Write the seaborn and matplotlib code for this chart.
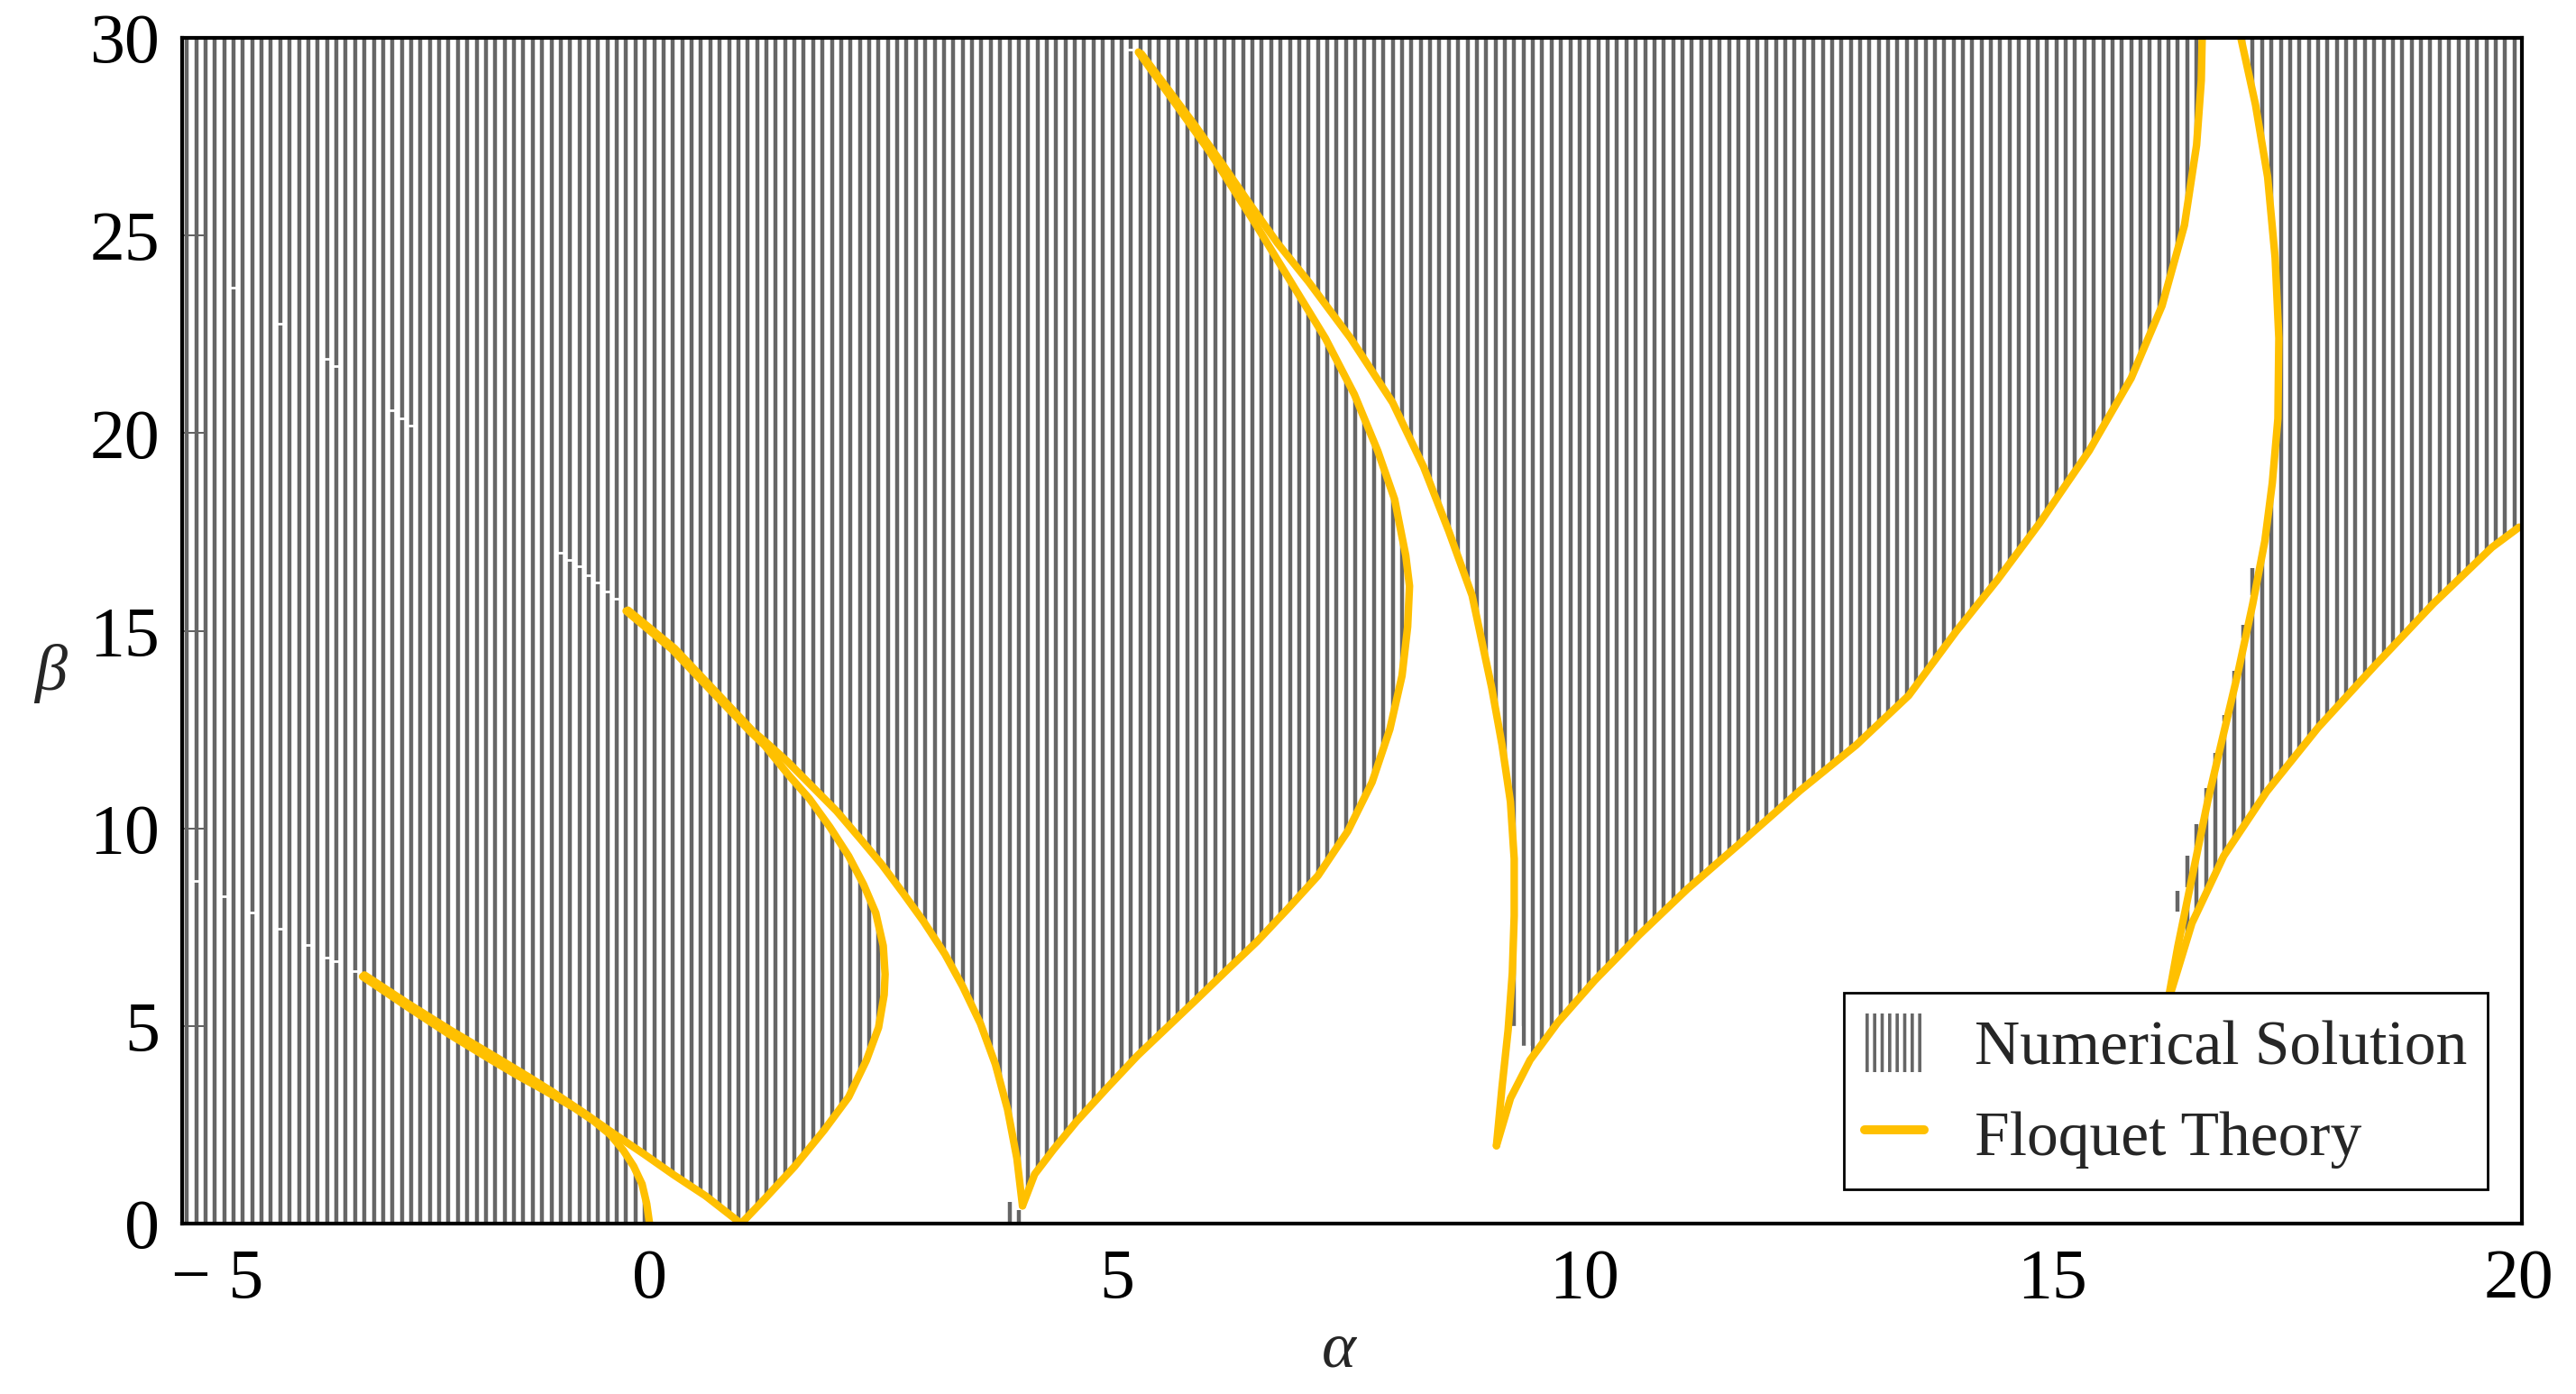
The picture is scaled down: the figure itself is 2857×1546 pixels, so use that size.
import numpy as np
import pandas as pd
import matplotlib
matplotlib.use("Agg")
import matplotlib.pyplot as plt
import matplotlib.transforms as mtransforms
import seaborn as sns
from matplotlib.patches import Patch
from matplotlib.lines import Line2D

# ---------------- data ----------------
# Floquet-theory transition curves (alpha, beta)
a0_alpha = [0.0, -0.03, -0.08, -0.17, -0.28, -0.42, -0.60, -0.80, -1.00, -1.20, -1.40, -1.70, -2.15, -2.60, -3.07]
a0_beta = [0.0, 0.50, 1.00, 1.45, 1.85, 2.25, 2.60, 2.92, 3.20, 3.47, 3.73, 4.15, 4.80, 5.50, 6.25]

b1_alpha = [0.98, 0.60, 0.26, -0.06, -0.38, -0.70, -1.03, -1.30, -1.65, -2.12, -2.58, -3.05]
b1_beta = [0.0, 0.70, 1.23, 1.76, 2.27, 2.80, 3.32, 3.72, 4.22, 4.88, 5.56, 6.29]

a1_alpha = [0.98, 1.23, 1.55, 1.87, 2.13, 2.32, 2.45, 2.51, 2.52, 2.50, 2.42, 2.29, 2.13, 1.93, 1.71, 1.48, 1.23, 1.08, 0.66, 0.24, -0.25]
a1_beta = [0.0, 0.62, 1.44, 2.37, 3.20, 4.13, 4.96, 5.79, 6.31, 7.03, 7.86, 8.58, 9.30, 10.03, 10.75, 11.37, 12.10, 12.44, 13.48, 14.53, 15.50]

b2_alpha = [3.99, 3.93, 3.83, 3.70, 3.54, 3.35, 3.16, 2.93, 2.71, 2.48, 2.26, 2.00, 1.74, 1.48, 1.26, 1.11, 0.69, 0.27, -0.23]
b2_beta = [0.45, 1.65, 2.89, 4.03, 5.06, 6.00, 6.82, 7.65, 8.37, 9.10, 9.72, 10.44, 11.06, 11.68, 12.15, 12.45, 13.50, 14.55, 15.52]

a2_alpha = [3.99, 4.12, 4.32, 4.57, 4.89, 5.22, 5.54, 5.86, 6.18, 6.50, 6.83, 7.15, 7.47, 7.73, 7.92, 8.05, 8.11, 8.13,
            8.09, 7.97, 7.79, 7.54, 7.23, 6.86, 6.49, 6.00, 5.57, 5.23]
a2_beta = [0.45, 1.25, 1.87, 2.59, 3.42, 4.25, 4.97, 5.69, 6.42, 7.14, 7.97, 8.80, 9.93, 11.17, 12.51, 13.86, 15.10, 16.13,
           16.90, 18.33, 19.55, 20.98, 22.40, 23.83, 25.26, 27.09, 28.52, 29.64]

b3_alpha = [9.06, 9.12, 9.185, 9.23, 9.25, 9.25, 9.21, 9.12, 9.01, 8.80, 8.55, 8.28, 7.95, 7.50, 7.05, 6.72, 6.42, 6.13, 5.83, 5.53, 5.26]
b3_beta = [1.97, 3.46, 4.90, 6.34, 7.79, 9.23, 10.67, 12.11, 13.55, 15.89, 17.52, 19.15, 20.77, 22.40, 23.83, 24.80, 25.80, 26.80, 27.80, 28.75, 29.60]

a3_alpha = [9.06, 9.21, 9.42, 9.72, 10.11, 10.59, 11.10, 11.71, 12.31, 12.91, 13.47, 13.98, 14.42, 14.87, 15.40, 15.85, 16.18, 16.42, 16.55, 16.60, 16.61]
a3_beta = [1.97, 3.17, 4.14, 5.10, 6.15, 7.31, 8.46, 9.71, 10.96, 12.11, 13.36, 14.99, 16.29, 17.72, 19.55, 21.39, 23.22, 25.26, 27.29, 28.92, 30.04]

b4_alpha = [17.02, 17.18, 17.31, 17.39, 17.43, 17.42, 17.36, 17.28, 17.15, 16.99, 16.83, 16.67, 16.51, 16.35, 16.24]
b4_beta = [30.04, 28.31, 26.48, 24.44, 22.40, 20.37, 18.74, 17.27, 15.67, 13.91, 12.31, 10.70, 8.86, 7.02, 5.58]

a4_alpha = [16.24, 16.50, 16.84, 17.30, 17.85, 18.45, 19.08, 19.71, 20.0]
a4_beta = [5.58, 7.60, 9.30, 10.93, 12.55, 14.10, 15.68, 17.11, 17.62]

# Numerical solution: sampled alpha columns (one stripe per sample)
alpha_grid = np.round(np.arange(-4.95, 20.0, 0.1), 2)
# isolated stable samples inside the unstable region (white gaps)
gap_alpha = [-4.85, -4.55, -4.25, -3.95, -3.65, -3.45, -3.35, -3.15,
             -4.45, -3.95, -3.45, -3.35, -2.75, -2.65, -2.55,
             -0.95, -0.85, -0.75, -0.65, -0.55, -0.45, -0.35, 5.15]
gap_beta = [8.66, 8.27, 7.86, 7.46, 7.06, 6.73, 6.65, 6.39,
            23.68, 22.77, 21.87, 21.70, 20.57, 20.37, 20.20,
            16.98, 16.80, 16.63, 16.40, 16.22, 15.99, 15.82, 29.70]
# stable numerical cells just above the cusp of the third tongue
cusp_gap_alpha = [9.06, 9.25, 9.42, 9.43, 9.33, 9.33, 9.19, 9.12]
cusp_gap_beta = [1.97, 3.35, 4.14, 4.50, 4.50, 5.00, 5.00, 3.46]
# isolated unstable samples inside stable regions (grey dashes)
dash_alpha = [16.35, 16.45, 16.55, 16.65, 16.75, 16.85, 16.95, 17.05, 17.15, 3.85, 3.95]
dash_low = [7.90, 8.50, 9.50, 10.60, 11.60, 12.70, 13.70, 14.80, 15.90, 0.05, 0.05]
dash_high = [8.42, 9.30, 10.10, 11.03, 11.91, 12.87, 13.99, 15.15, 16.59, 0.55, 0.35]

x_ticks = [-5, 0, 5, 10, 15, 20]
x_tick_labels = ["\u2212 5", "0", "5", "10", "15", "20"]
y_ticks = [0, 5, 10, 15, 20, 25, 30]

curves = {
    "a0": (a0_alpha, a0_beta), "b1": (b1_alpha, b1_beta),
    "a1": (a1_alpha, a1_beta), "b2": (b2_alpha, b2_beta),
    "a2": (a2_alpha, a2_beta), "b3": (b3_alpha, b3_beta),
    "a3": (a3_alpha, a3_beta), "b4": (b4_alpha, b4_beta),
    "a4": (a4_alpha, a4_beta),
}

# ---------------- style ----------------
sns.set_theme(style="ticks")
plt.rcParams["font.family"] = ["Liberation Serif", "DejaVu Serif"]
plt.rcParams["hatch.linewidth"] = 1.3

STRIPE = "#666666"
GOLD = "#FFC000"
plt.rcParams["hatch.color"] = STRIPE

fig = plt.figure(figsize=(2857 / 200, 1546 / 200), dpi=200)
ax = fig.add_axes([202 / 2857, 189 / 1546, 2595 / 2857, 1315 / 1546])
ax.set_xlim(-5.0, 20.03)
ax.set_ylim(0, 30)

# numerical solution: vertical stripes everywhere, stable regions masked in white
ax.vlines(alpha_grid, 0, 30, colors=STRIPE, linewidth=1.6, zorder=1)

poly_x = (a0_alpha + b1_alpha[::-1] + a1_alpha + b2_alpha[::-1] + a2_alpha + b3_alpha[::-1]
          + a3_alpha + b4_alpha + a4_alpha + [20.6, 20.6])
poly_y = (a0_beta + b1_beta[::-1] + a1_beta + b2_beta[::-1] + a2_beta + b3_beta[::-1]
          + a3_beta + b4_beta + a4_beta + [17.8, 0.0])
ax.fill(poly_x, poly_y, color="white", linewidth=0, zorder=2)
ax.fill(cusp_gap_alpha, cusp_gap_beta, color="white", linewidth=0, zorder=2)

ax.vlines(dash_alpha, dash_low, dash_high, colors=STRIPE, linewidth=1.6, zorder=2.5)
ax.plot(gap_alpha, gap_beta, ls="none", marker="_", ms=3.6, mew=1.0, color="white", zorder=2.5)

# Floquet theory curves
for name, (xa, yb) in curves.items():
    df = pd.DataFrame({"alpha": xa, "beta": yb})
    sns.lineplot(data=df, x="alpha", y="beta", sort=False, estimator=None, color=GOLD,
                 linewidth=3.0, ax=ax, legend=False, zorder=3)

# axes styling
ax.set_xticks(x_ticks)
ax.set_xticklabels(x_tick_labels)
ax.set_yticks(y_ticks)
ax.tick_params(axis="both", direction="in", length=9, width=0.6, color="#444444",
               labelsize=28, labelcolor="black", top=False, right=False)
ax.tick_params(axis="x", pad=10)
ax.tick_params(axis="y", pad=9)
# the "-5" label starts just left of the left spine, as in the reference
first = ax.get_xticklabels()[0]
first.set_ha("left")
first.set_transform(first.get_transform()
                    + mtransforms.ScaledTranslation(-12 / 200, 0, fig.dpi_scale_trans))
for s in ax.spines.values():
    s.set_linewidth(1.5)
    s.set_color("black")
    s.set_zorder(5)

ax.set_xlabel("\u03b1", fontsize=26, fontstyle="italic")
ax.set_ylabel("\u03b2", fontsize=26, fontstyle="italic", rotation=0)
ax.xaxis.label.set_va("center")
ax.yaxis.label.set_va("center")
ax.yaxis.label.set_ha("center")
ax.xaxis.set_label_coords(0.4944, -0.107)
ax.yaxis.set_label_coords(-0.0563, 0.4639)

handles = [Patch(facecolor="white", edgecolor=STRIPE, hatch="||||", linewidth=0),
           Line2D([], [], color=GOLD, linewidth=3.6)]
leg = ax.legend(handles, ["Numerical Solution", "Floquet Theory"], loc="lower right",
                fontsize=25, frameon=True, fancybox=False, framealpha=1, edgecolor="black",
                borderpad=0.33, handlelength=0.95, handleheight=1.05, handletextpad=0.8,
                labelspacing=0.43, borderaxespad=0.55)
leg.get_frame().set_linewidth(1.0)
leg.set_zorder(10)

fig.savefig("out.png", dpi=200)
